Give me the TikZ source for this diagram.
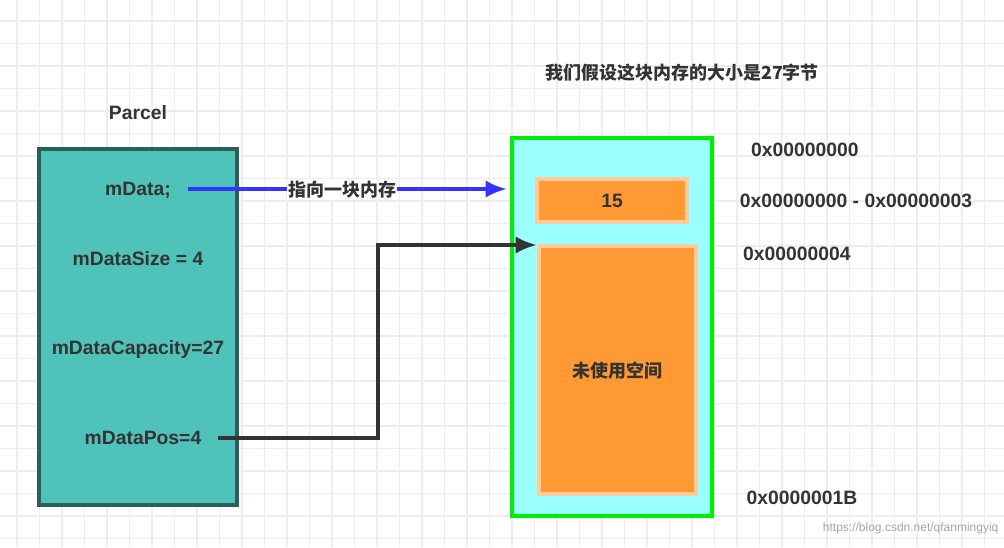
\documentclass[tikz,border=0pt]{standalone}
\usepackage{fontspec}
\setmainfont{Liberation Sans}
\newfontfamily\cjk{Noto Sans CJK SC}
\usetikzlibrary{arrows.meta}
\begin{document}
\begin{tikzpicture}[x=0.75pt,y=-0.75pt,
  lbl/.style={font=\fontsize{14.5}{16}\selectfont\bfseries,text=black!80},
  clbl/.style={font=\cjk\fontsize{13.5}{15}\selectfont\bfseries,text=black!80},
  box/.style={line width=3pt}]
\definecolor{tealf}{HTML}{4FC3B9}\definecolor{teald}{HTML}{2A5F5A}
\definecolor{cyanf}{HTML}{99FFFF}\definecolor{grn}{HTML}{00EE00}
\definecolor{orf}{HTML}{FF9933}\definecolor{ord}{HTML}{FFCC99}
\definecolor{blu}{HTML}{3333FF}
\useasboundingbox (0,0) rectangle (1004,547);
\fill[white] (0,0) rectangle (1004,547);
\foreach \i in {0,...,44} {\draw[black!7,line width=0.8pt] (17+22.5*\i,0) -- (17+22.5*\i,547);}
\foreach \i in {0,...,24} {\draw[black!7,line width=0.8pt] (0,21+22.5*\i) -- (1004,21+22.5*\i);}
\node[lbl] (parcel) at (138,113) {Parcel};
\draw[box,fill=tealf,draw=teald] (39,149) rectangle (237,505);
\node[lbl] (md) at (138,190) {mData;};
\node[lbl] (mds) at (138,259) {mDataSize = 4};
\node[lbl] (mdc) at (138,349) {mDataCapacity=27};
\node[lbl] (mdp) at (143,438) {mDataPos=4};
\node[clbl] (title) at (682,73) {我们假设这块内存的大小是27字节};
\draw[box,fill=cyanf,draw=grn] (512,138) rectangle (712,516);
\draw[box,fill=orf,draw=ord] (537,179) rectangle (687,222);
\node[lbl] (v15) at (612,201) {15};
\draw[box,fill=orf,draw=ord] (539,246) rectangle (696,494);
\node[clbl] (unused) at (617,371) {未使用空间};
\coordinate (bs) at (188,189); \coordinate (be) at (507,189);
\draw[blu,line width=3pt,-{Latex[length=16pt,width=13pt]}] (bs) -- (be);
\node[clbl,fill=white,inner sep=1pt] (ptr) at (342,190) {指向一块内存};
\coordinate (ks) at (218,438); \coordinate (ke) at (537,245);
\draw[black!80,line width=3pt,-{Latex[length=16pt,width=13pt]}] (ks) -- (378,438) -- (378,245) -- (ke);
\node[lbl] (a0) at (805,150) {0x00000000};
\node[lbl] (a1) at (856,201) {0x00000000 - 0x00000003};
\node[lbl] (a2) at (797,254) {0x00000004};
\node[lbl] (a3) at (802,498) {0x0000001B};
\node[font=\fontsize{9}{10}\selectfont,text=black!35,anchor=east,inner sep=1pt] (wm) at (1000,528) {https://blog.csdn.net/qfanmingyiq};
\end{tikzpicture}
\end{document}
